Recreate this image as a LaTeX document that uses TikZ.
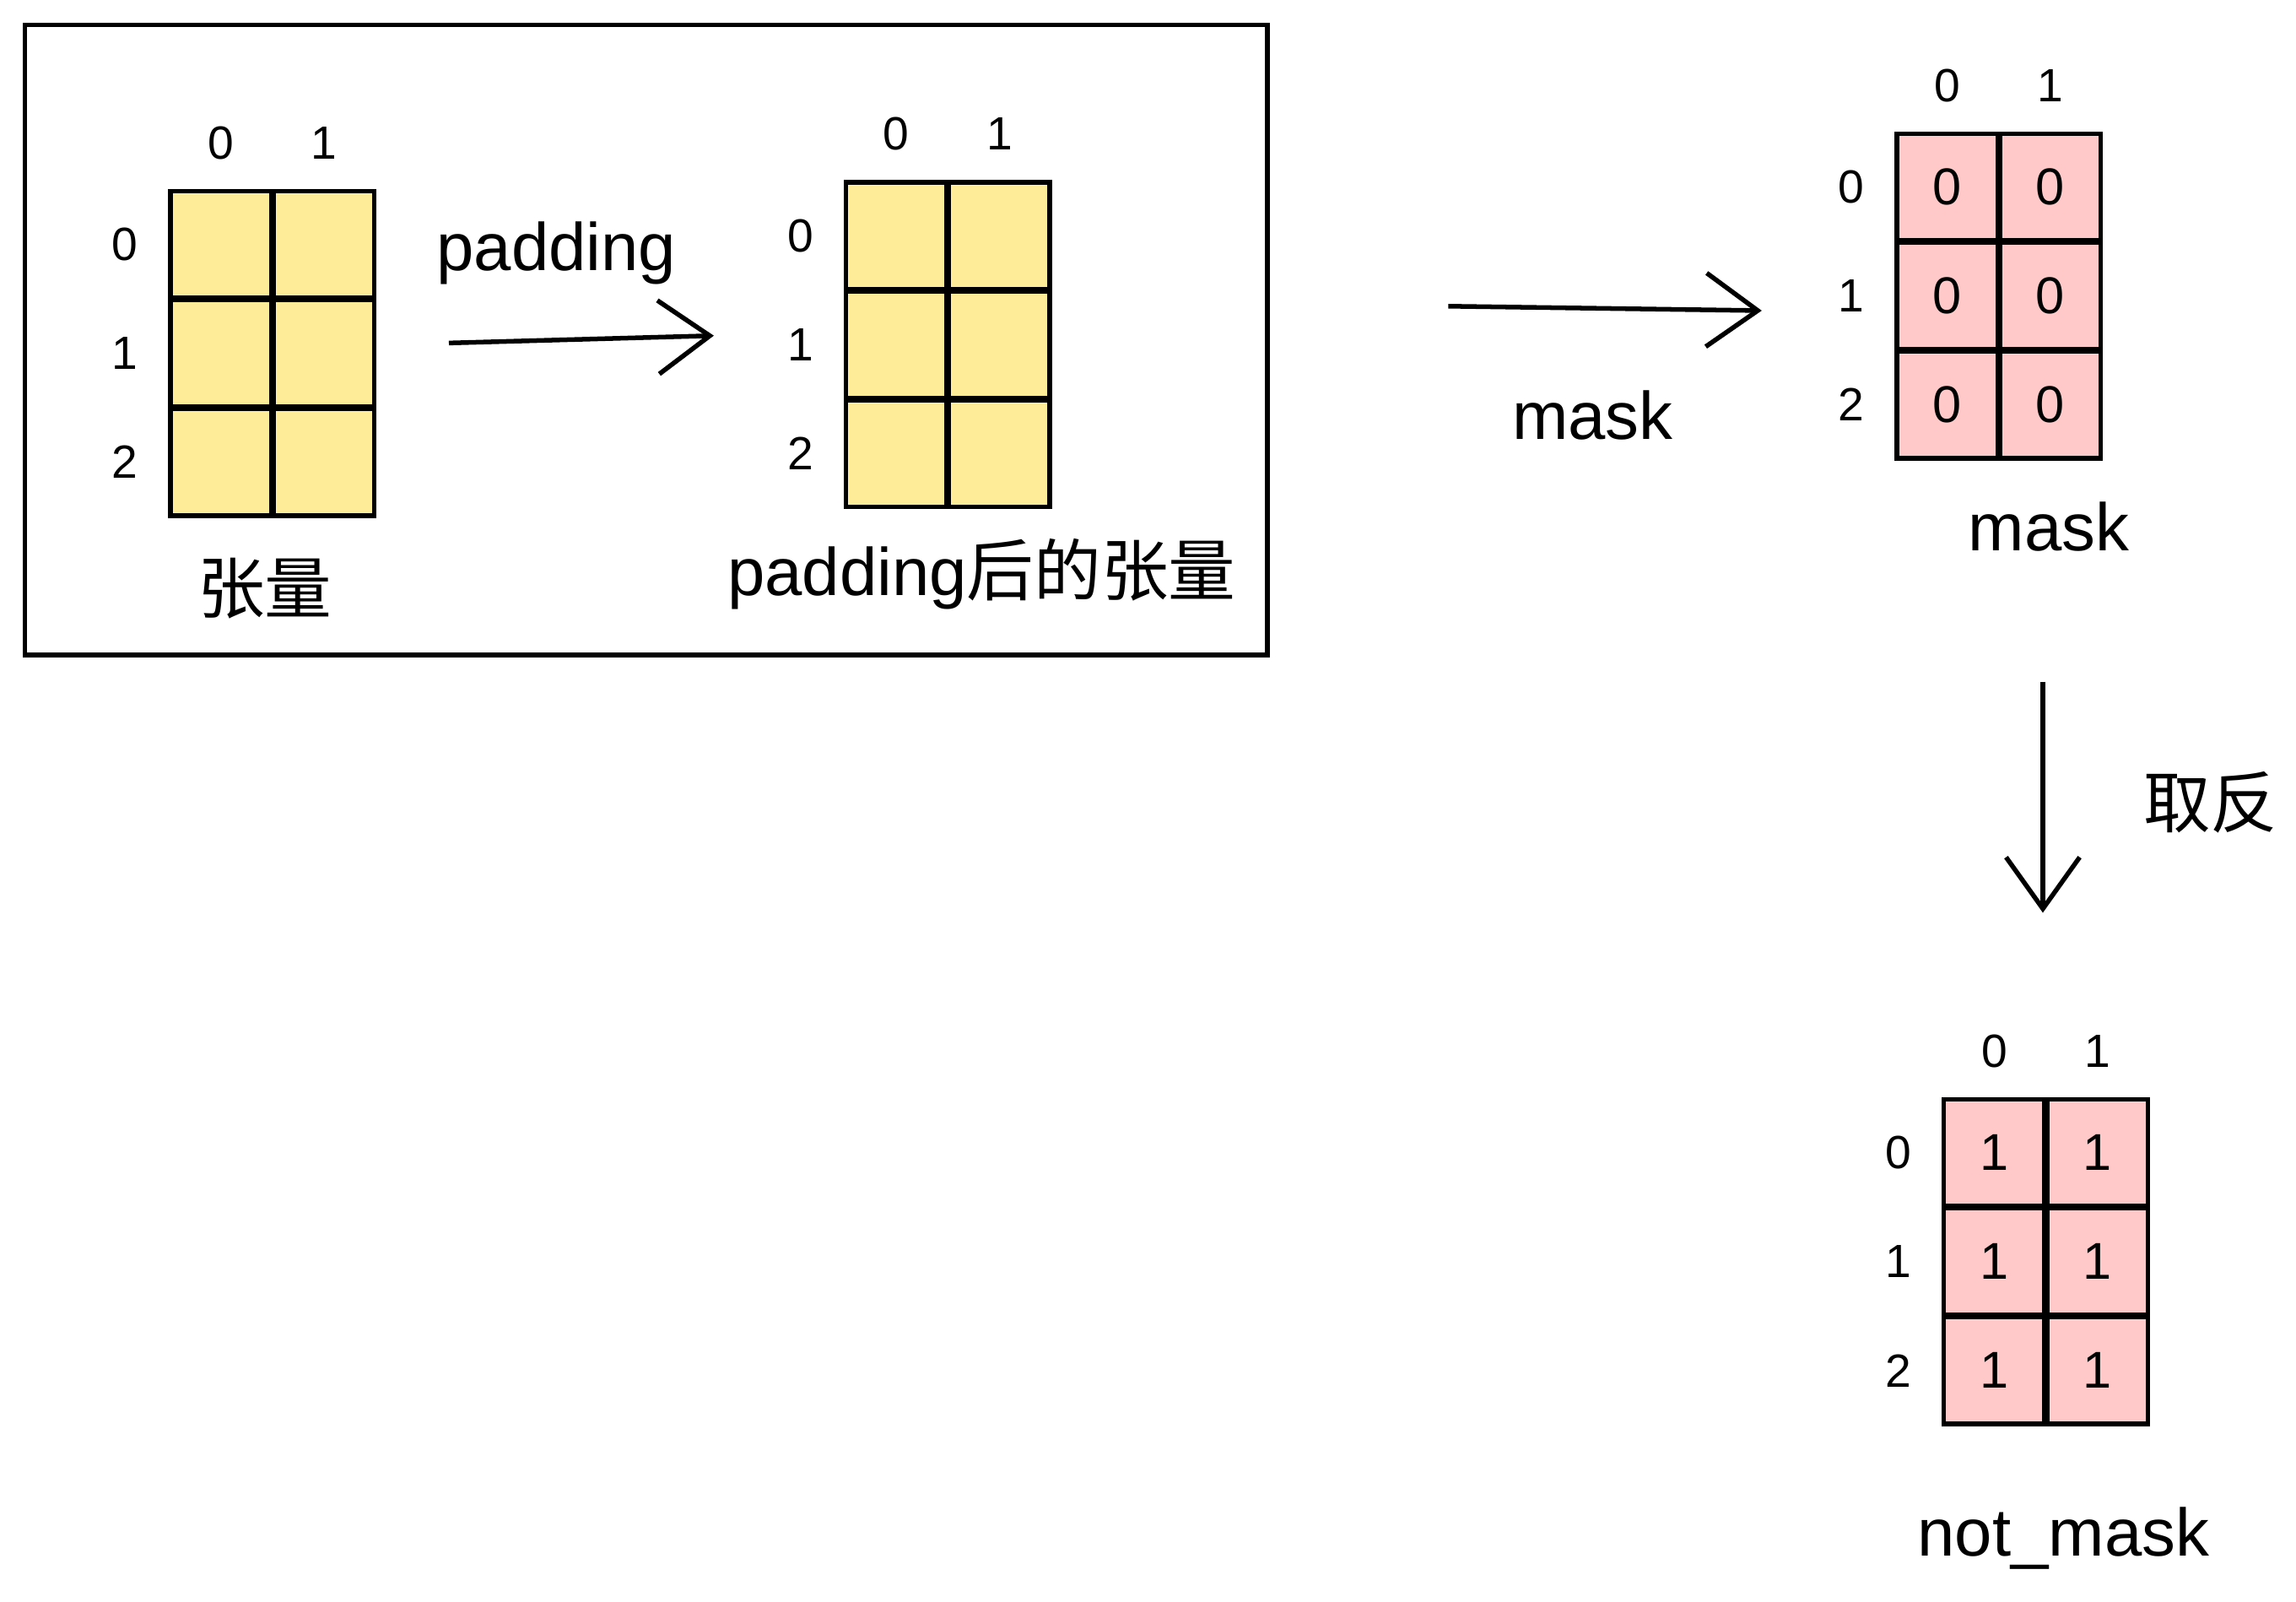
\documentclass[tikz,border=0pt]{standalone}
\usepackage{fontspec}
\setmainfont{Liberation Sans}
\newfontfamily\cjk{Noto Sans CJK SC}
\usetikzlibrary{arrows.meta}
\definecolor{yel}{HTML}{FFEC99}
\definecolor{pnk}{HTML}{FFC9C9}
\tikzset{cellbox/.style={draw=black,line width=0.9pt,minimum width=6.85mm,minimum height=7.25mm,inner sep=0pt,font=\fontsize{10}{10}\selectfont},
idx/.style={font=\fontsize{9}{9}\selectfont},
arr/.style={line width=0.9pt,-{Straight Barb[length=3.5mm,width=5mm]}},
lbl/.style={font=\fontsize{13}{13}\selectfont}}
\begin{document}
\begin{tikzpicture}[x=0.1mm,y=-0.1mm]
\useasboundingbox (0,0) rectangle (1560,1088);
\draw[line width=0.9pt] (17,17) rectangle (861,445);
\foreach \gx/\gy/\fill/\val/\nm in {115/129/yel//a,574/123/yel//b,1288/90/pnk/0/c,1320/746/pnk/1/d}{
  \foreach \c in {0,1}{
    \foreach \r in {0,1,2}{
      \node[cellbox,fill=\fill] (\nm\r\c) at (\gx+35+70*\c,\gy+37+74*\r) {\val};
    }
    \node[idx] (\nm col\c) at (\gx+35+70*\c,\gy-32) {\c};
  }
  \foreach \r in {0,1,2}{\node[idx] (\nm row\r) at (\gx-30,\gy+37+74*\r) {\r};}
}
\node[lbl] (la) at (180,400) {\cjk 张量};
\node[lbl] (lb) at (667,390) {padding\cjk 后的张量};
\node[lbl] (lc) at (1392,358) {mask};
\node[lbl] (ld) at (1402,1045) {not\_mask};
\coordinate (p1) at (305,233); \coordinate (p2) at (485,228);
\draw[arr] (p1) -- (p2);
\node[lbl] (tp) at (378,172) {padding};
\coordinate (m1) at (984,208); \coordinate (m2) at (1197,211);
\draw[arr] (m1) -- (m2);
\node[lbl] (tm) at (1082,282) {mask};
\coordinate (n1) at (1388,463); \coordinate (n2) at (1388,620);
\draw[arr] (n1) -- (n2);
\node[lbl] (tn) at (1502,545) {\cjk 取反};
\end{tikzpicture}
\end{document}
